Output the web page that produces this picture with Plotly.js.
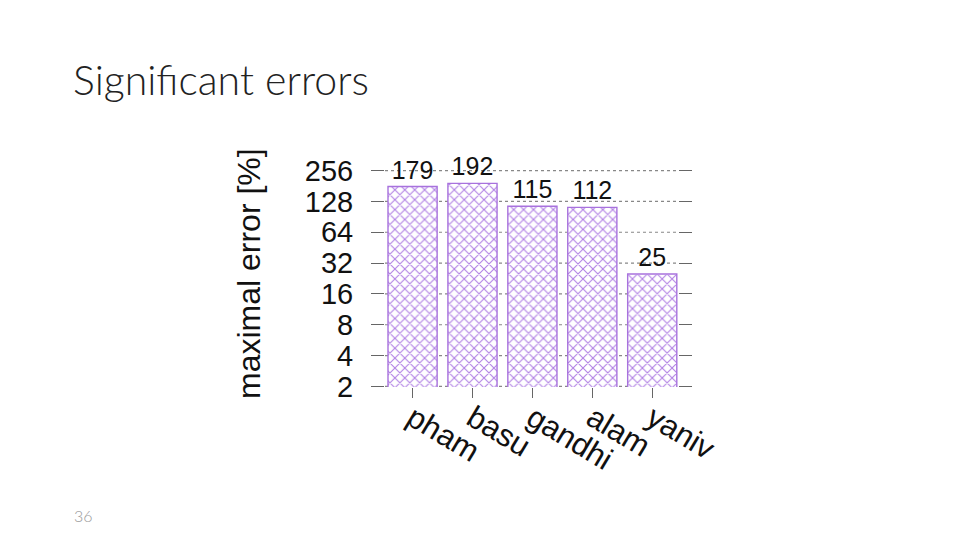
<!DOCTYPE html>
<html>
<head>
<meta charset="utf-8">
<script src="https://cdn.plot.ly/plotly-3.0.1.min.js"></script>
<style>
html,body{margin:0;padding:0;background:#fff;}
#chart{width:960px;height:540px;}
</style>
</head>
<body>
<div id="chart"></div>
<script>
const categories = ["pham", "basu", "gandhi", "alam", "yaniv"];
const maxErrors = [179, 192, 115, 112, 25];
const yTickValues = [2, 4, 8, 16, 32, 64, 128, 256];
const yTickLabels = ["2", "4", "8", "16", "32", "64", "128", "256"];

const purple = "#a872dd";
const trace = {
  type: "bar",
  x: categories,
  y: maxErrors,
  text: maxErrors.map(String),
  textposition: "outside",
  constraintext: "none",
  cliponaxis: false,
  textfont: {family: "Liberation Sans, Arial, sans-serif", size: 25, color: "#111"},
  marker: {
    color: "#ffffff",
    line: {color: purple, width: 1.4},
    pattern: {shape: "x", fgcolor: "#b07fe4", bgcolor: "#ffffff", size: 7, solidity: 0.28}
  },
  hoverinfo: "skip"
};

const gridShapes = yTickValues.map(v => ({
  type: "line", xref: "paper", yref: "y", layer: "below",
  x0: 0, x1: 1, y0: v, y1: v,
  line: {color: "#888", width: 1.2, dash: "dot"}
}));

const L = 385, R = 678, T = 170, B = 387;
const layout = {
  width: 960, height: 540,
  margin: {l: L, r: 960 - R, t: T, b: 540 - B, pad: 0},
  paper_bgcolor: "#fff", plot_bgcolor: "#fff",
  showlegend: false,
  bargap: 0.18,
  font: {family: "Liberation Sans, Arial, sans-serif", color: "#111"},
  title: {
    text: "Significant errors",
    font: {family: "Lato, 'Open Sans', sans-serif", size: 41, color: "#222", weight: 300},
    x: 73 / 960, xanchor: "left", xref: "container",
    y: 1 - 81 / 540, yanchor: "middle", yref: "container"
  },
  xaxis: {
    type: "category",
    range: [-0.46, 4.43],
    showgrid: false, zeroline: false, showline: false,
    ticks: "outside", ticklen: 10, tickcolor: "#666", tickwidth: 1,
    tickangle: 31,
    ticklabelstandoff: -10,
    tickfont: {size: 31, color: "#111"},
    fixedrange: true
  },
  yaxis: {
    type: "log",
    range: [Math.log10(2) - 0.006, Math.log10(256) + 0.006],
    tickvals: yTickValues,
    ticktext: yTickLabels,
    showgrid: false,
    zeroline: false, showline: false,
    ticks: "outside", ticklen: 13, tickcolor: "#666", tickwidth: 1,
    mirror: "ticks",
    ticklabelstandoff: 12,
    tickfont: {size: 29, color: "#111"},
    fixedrange: true
  },
  shapes: gridShapes,
  annotations: [
    {
      text: "maximal error [%]",
      xref: "paper", yref: "paper",
      x: (249 - L) / (R - L), y: (B - 274) / (B - T),
      xanchor: "center", yanchor: "middle",
      textangle: -90, showarrow: false,
      font: {family: "Liberation Sans, Arial, sans-serif", size: 32, color: "#111"}
    },
    {
      text: "36",
      xref: "paper", yref: "paper",
      x: (72 - L) / (R - L), y: (B - 515) / (B - T),
      xanchor: "left", yanchor: "middle",
      showarrow: false,
      font: {family: "Lato, 'Open Sans', sans-serif", size: 16, color: "#999", weight: 300}
    }
  ]
};

Plotly.newPlot("chart", [trace], layout, {staticPlot: true, displayModeBar: false});
</script>
</body>
</html>
